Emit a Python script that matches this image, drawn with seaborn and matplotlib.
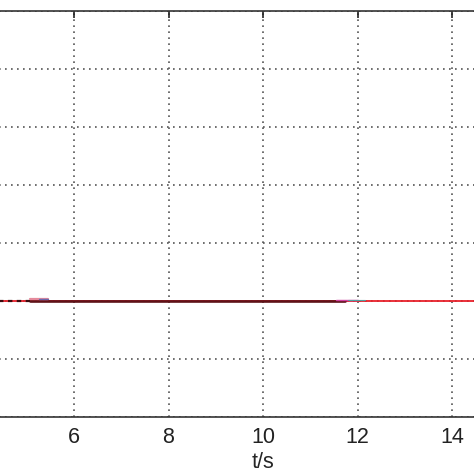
import matplotlib
matplotlib.use("Agg")
import matplotlib.pyplot as plt
import seaborn as sns

sns.set_style("white")
plt.rcParams['font.family'] = ['Liberation Sans', 'DejaVu Sans']

# Data (all signals settle at the same value)
red_t = [0.0, 15.0]
red_y = [0.0, 0.0]
black_dash_t = [0.0, 5.07]
black_dash_y = [0.0, 0.0]
maroon_t = [5.07, 11.74]
maroon_y = [0.0, 0.0]
pink_t = [5.07, 5.45]
pink_y = [0.03, 0.03]
blue_t = [5.25, 5.45]
blue_y = [0.03, 0.03]
magenta_t = [11.55, 12.0]
magenta_y = [0.01, 0.01]
cyan_t = [11.8, 12.15]
cyan_y = [0.02, 0.02]

xticks = [0, 2, 4, 6, 8, 10, 12, 14]
xticklabels = ['', '', '', '6', '8', '10', '12', '14']
yticks = [-2, -1, 0, 1, 2, 3, 4, 5]

fig = plt.figure(figsize=(4.74, 4.74), dpi=100)
ax = fig.add_axes([-209.5 / 474, 57 / 474, 708.75 / 474, 406 / 474])

sns.lineplot(x=red_t, y=red_y, ax=ax, color='#e8202a', lw=1.3)
sns.lineplot(x=maroon_t, y=maroon_y, ax=ax, color='#5e1218', lw=1.9)
sns.lineplot(x=black_dash_t, y=black_dash_y, ax=ax, color='#3a0a0e', lw=1.6, linestyle=(0, (2, 2)))
sns.lineplot(x=pink_t, y=pink_y, ax=ax, color='#e58a9c', lw=1.6)
sns.lineplot(x=blue_t, y=blue_y, ax=ax, color='#6a6ab0', lw=1.0)
sns.lineplot(x=magenta_t, y=magenta_y, ax=ax, color='#d040a0', lw=1.0)
sns.lineplot(x=cyan_t, y=cyan_y, ax=ax, color='#50a0a0', lw=0.8)

ax.set_xlim(0, 15)
ax.set_ylim(-2, 5)
ax.set_xticks(xticks)
ax.set_xticklabels(xticklabels)
ax.set_yticks(yticks)
ax.grid(True, linestyle=(0, (1, 2.6)), color='#555555', lw=1.2)
for s in ax.spines.values():
    s.set_color('#333333')
    s.set_linewidth(1.2)
ax.tick_params(direction='in', length=5, width=1.2, top=True, right=True,
               labelsize=15.5, pad=7, colors='#222222')
ax.tick_params(axis='y', labelleft=False)
ax.set_xlabel('t/s', fontsize=15.5)
ax.xaxis.set_label_coords((263 + 209.5) / 708.75, -35 / 406)
ax.set_ylabel('')

fig.savefig('out.png', dpi=100)
